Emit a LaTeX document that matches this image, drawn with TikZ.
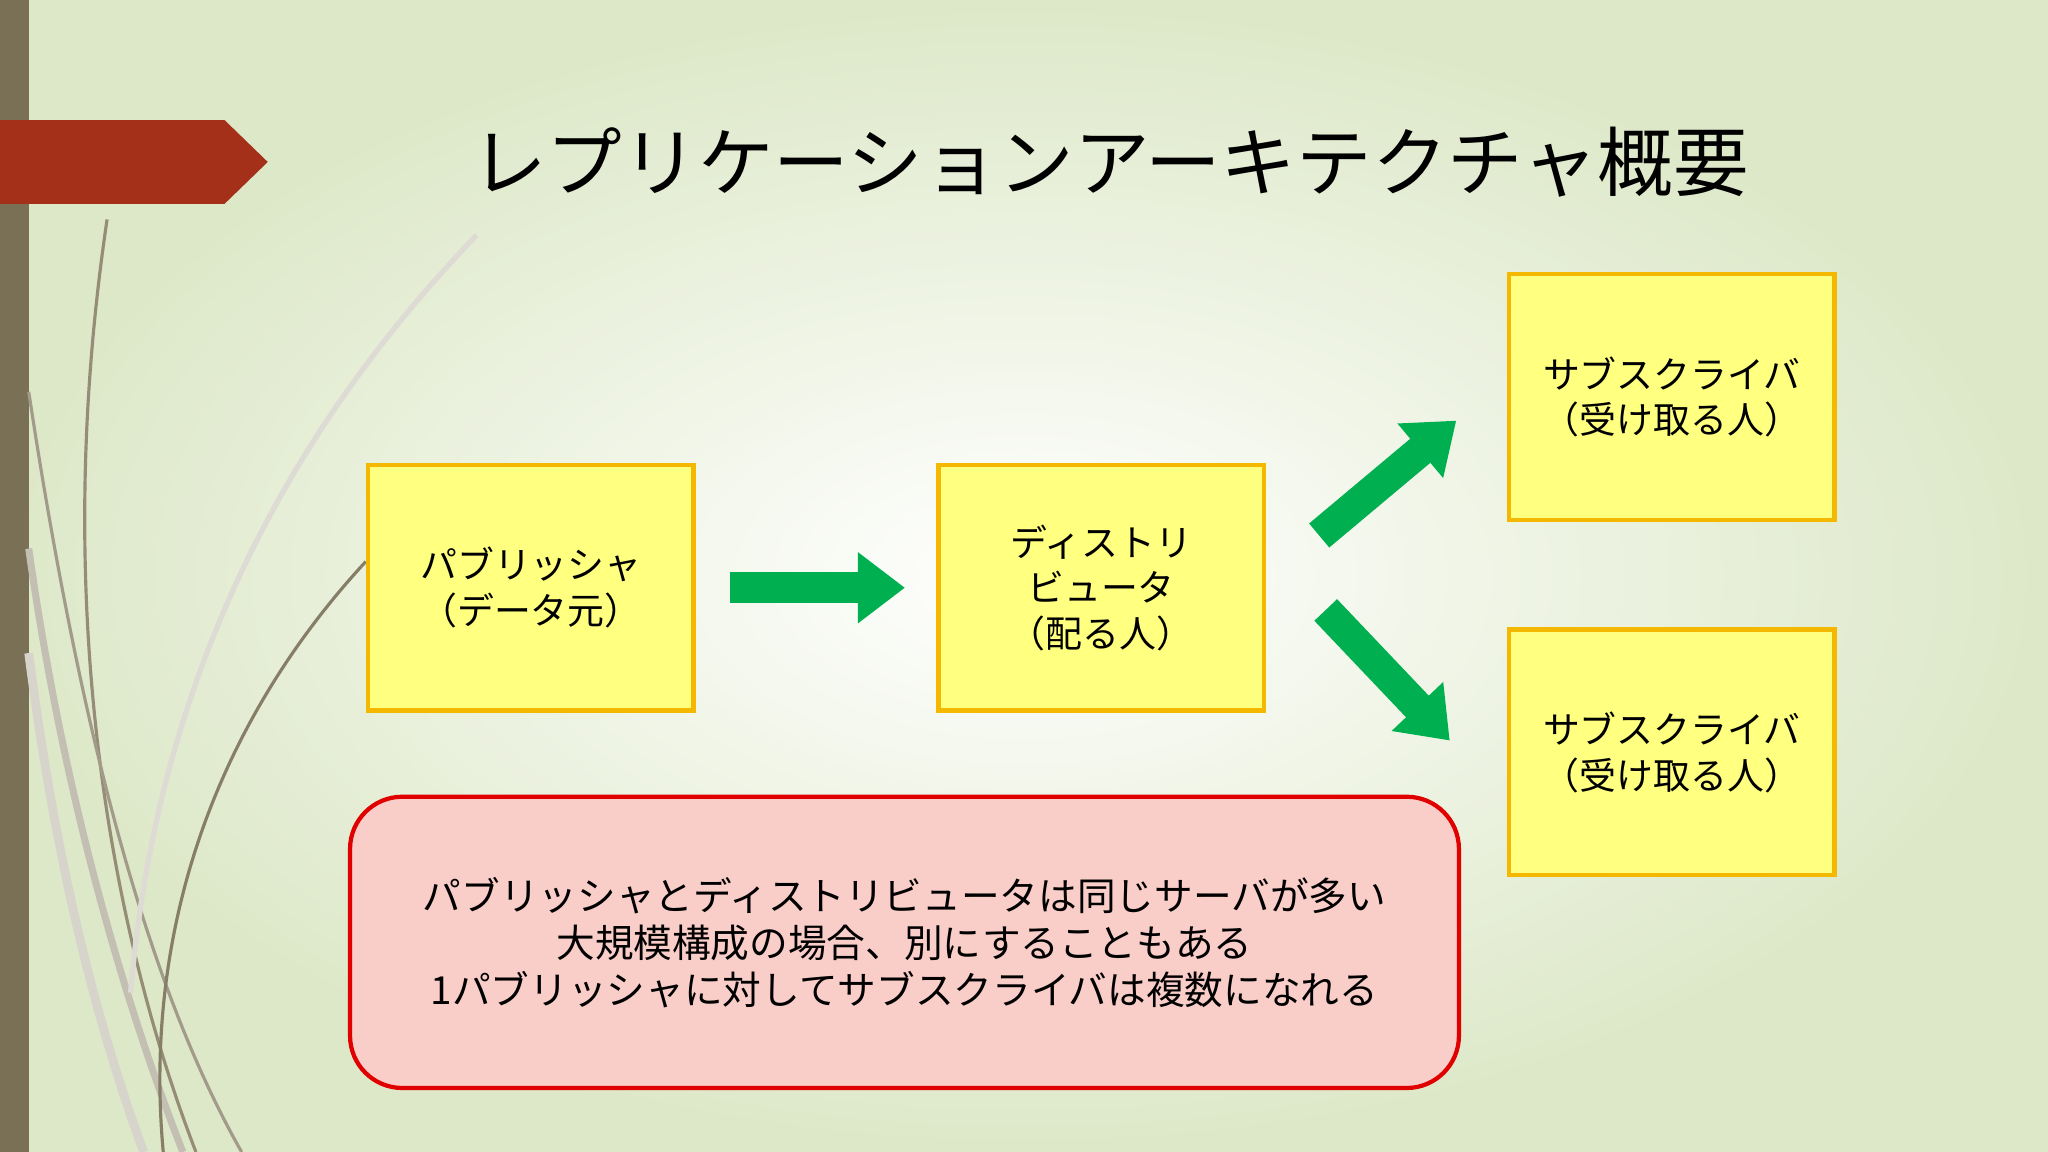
\documentclass[tikz,border=0pt]{standalone}
\usepackage{fontspec}
\newfontfamily\cjk{Noto Sans CJK JP}
\usetikzlibrary{arrows.meta}
\definecolor{bgg}{HTML}{DDE8C8}
\definecolor{barc}{HTML}{7A7056}
\definecolor{redb}{HTML}{A5301A}
\definecolor{boxf}{HTML}{FFFF80}
\definecolor{boxd}{HTML}{F5B800}
\definecolor{grn}{HTML}{00B050}
\definecolor{pinkf}{HTML}{F9CDC8}
\definecolor{redd}{HTML}{E00000}
\begin{document}
\begin{tikzpicture}[x=0.01306cm,y=-0.01306cm,
  ybox/.style={draw=boxd,line width=1.2pt,fill=boxf,minimum width=249*0.01306cm,minimum height=188*0.01306cm,align=center,font=\cjk\fontsize{10.5}{13}\selectfont,inner sep=0pt},
  garrow/.style={grn,line width=24*0.01306cm,-{Triangle[width=52*0.01306cm,length=36*0.01306cm]}},
  deco/.style={line width=0.9pt}]
\useasboundingbox (0,0) rectangle (1568,882);
\shade[inner color=white,outer color=bgg] (0,0) rectangle (1568,882);
\fill[barc] (0,0) rectangle (22,882);
% decorative curves
\draw[deco,color=barc!80] (82,168) .. controls (40,450) and (80,700) .. (150,882);
\draw[deco,color=barc!70] (22,300) .. controls (60,550) and (110,750) .. (185,882);
\draw[deco,color=barc!45,line width=2pt] (22,420) .. controls (50,620) and (100,780) .. (140,882);
\draw[deco,color=barc!30,line width=2.5pt] (22,500) .. controls (45,680) and (80,800) .. (110,882);
\draw[deco,color=barc!90] (280,430) .. controls (160,560) and (110,720) .. (125,882);
\draw[deco,color=barc!25,line width=1.5pt] (365,180) .. controls (220,330) and (120,520) .. (100,760);
\fill[redb] (0,92) -- (172,92) -- (205,124) -- (172,156) -- (0,156) -- cycle;
\node[font=\cjk\fontsize{21.5}{24}\selectfont] (title) at (850,124) {レプリケーションアーキテクチャ概要};
\node[ybox] (pub) at (406.5,450) {パブリッシャ\\（データ元）};
\node[ybox] (dist) at (843,450) {ディストリ\\ビュータ\\（配る人）};
\node[ybox] (sub1) at (1280,304) {サブスクライバ\\（受け取る人）};
\node[ybox] (sub2) at (1280,576) {サブスクライバ\\（受け取る人）};
\draw[garrow,shorten <=26*0.01306cm,shorten >=24*0.01306cm] (pub.east) -- (dist.west);
\coordinate (a1s) at (1010,410); \coordinate (a1e) at (1115,322);
\coordinate (a2s) at (1015,467); \coordinate (a2e) at (1110,567);
\draw[garrow] (a1s) -- (a1e);
\draw[garrow] (a2s) -- (a2e);
\node[draw=redd,line width=1.2pt,fill=pinkf,rounded corners=40*0.01306cm,minimum width=849*0.01306cm,minimum height=223*0.01306cm,align=center,font=\cjk\fontsize{11}{13.4}\selectfont] (note) at (692.5,721.5) {パブリッシャとディストリビュータは同じサーバが多い\\大規模構成の場合、別にすることもある\\1パブリッシャに対してサブスクライバは複数になれる};
\end{tikzpicture}
\end{document}
